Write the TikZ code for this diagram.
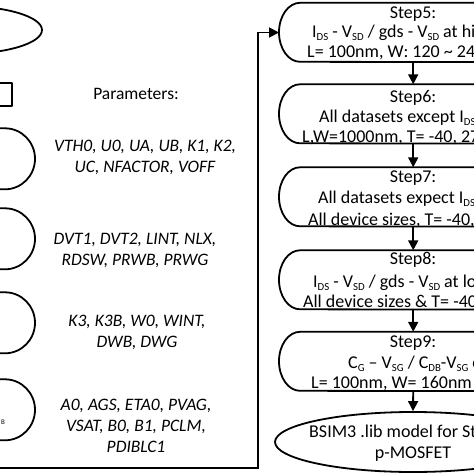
\documentclass[tikz,border=0pt]{standalone}
\usepackage{fontspec}
\setmainfont{Carlito}
\usetikzlibrary{arrows.meta,shapes.geometric}
\newcommand\sbs[1]{\raisebox{-0.3ex}{\fontsize{10.8}{10.8}\selectfont #1}}
\begin{document}
\begin{tikzpicture}[x=1pt,y=-1pt,
  outline/.style={line width=1.8pt,line join=round},
  arr/.style={line width=1.8pt,-{Triangle[length=10pt,width=10pt]}},
  stepbox/.style={anchor=west,minimum width=268pt,minimum height=59pt,inner sep=0pt},
  pbox/.style={anchor=east,minimum width=100pt,minimum height=61pt,inner sep=0pt},
  txt/.style={inner sep=0pt,font=\fontsize{17.5}{21}\selectfont},
  stxt/.style={inner sep=0pt,font=\fontsize{18}{21}\selectfont},
  ptxt/.style={inner sep=0pt,align=center,font=\fontsize{17.5}{21}\selectfont\itshape},
  lt/.style={stxt,anchor=base west},
  ct/.style={stxt,anchor=base}]
\useasboundingbox (0,0) rectangle (474,474);
\clip (0,0) rectangle (474,474);
\fill[white] (0,0) rectangle (474,474);

% left column shapes (cut off)
\node[draw,outline,ellipse,minimum width=160pt,minimum height=48pt] (top) at (-38,30) {};
\node[draw,outline,rectangle,minimum width=40pt,minimum height=23pt,inner sep=0pt] (sq) at (-8,94.5) {};
\node[pbox] (p1) at (35,159) {};
\node[pbox] (p2) at (35,239) {};
\node[pbox] (p3) at (35,323) {};
\node[pbox] (p4) at (35,410) {};
\foreach \n in {p1,p2,p3,p4}{
  \draw[outline] (\n.north west) -- ([xshift=-30pt]\n.north east)
    arc[start angle=90,end angle=-90,x radius=30pt,y radius=30.5pt] -- (\n.south west);
}
\node[inner sep=0pt,font=\fontsize{7}{7}\selectfont] (bsub) at (3,422) {B};

% parameters
\node[txt] (ptitle) at (136,94) {Parameters:};
\node[ptxt] (par1) at (145,157) {VTH0, U0, UA, UB, K1, K2,\\UC, NFACTOR, VOFF};
\node[ptxt] (par2) at (135,250) {DVT1, DVT2, LINT, NLX,\\RDSW, PRWB, PRWG};
\node[ptxt] (par3) at (137,332.5) {K3, K3B, W0, WINT,\\DWB, DWG};
\node[ptxt] (par4) at (136,426) {A0, AGS, ETA0, PVAG,\\VSAT, B0, B1, PCLM,\\PDIBLC1};

% step boxes
\node[stepbox] (s5) at (279,32.5) {};
\node[stepbox] (s6) at (279,114) {};
\node[stepbox] (s7) at (279,197) {};
\node[stepbox] (s8) at (279,280) {};
\node[stepbox] (s9) at (279,361.5) {};
\foreach \n in {s5,s6,s7,s8,s9}{
  \draw[outline] (\n.north east) -- ([xshift=21pt]\n.north west)
    arc[start angle=90,end angle=270,x radius=21pt,y radius=29.5pt] -- (\n.south east);
}
\node[draw,outline,ellipse,minimum width=276pt,minimum height=60pt] (fin) at (413,442) {};

% step texts
\node[ct] (t5a) at (413,18.5) {Step5:};
\node[lt] (t5b) at (312,37.5) {I\sbs{DS} - V\sbs{SD} / gds - V\sbs{SD} at high V\sbs{SG}};
\node[lt] (t5c) at (307,57.5) {L= 100nm, W: 120 \textasciitilde{} 240nm};
\node[ct] (t6a) at (413,102.5) {Step6:};
\node[lt] (t6b) at (319,122.5) {All datasets except I\sbs{DS} - V\sbs{SD} at high V\sbs{SG}};
\node[lt] (t6c) at (302,142.5) {L,W=1000nm, T= -40, 27, 125 °C};
\node[ct] (t7a) at (413,182.5) {Step7:};
\node[lt] (t7b) at (318,203.5) {All datasets expect I\sbs{DS} - V\sbs{SD} at low V\sbs{SG}};
\node[lt] (t7c) at (308,225.5) {All device sizes, T= -40, 27, 125 °C};
\node[ct] (t8a) at (413,264.5) {Step8:};
\node[lt] (t8b) at (313,287.5) {I\sbs{DS} - V\sbs{SD} / gds - V\sbs{SD} at low V\sbs{SG}};
\node[lt] (t8c) at (303,307.5) {All device sizes \& T= -40, 27, 125 °C};
\node[ct] (t9a) at (413,347.5) {Step9:};
\node[lt] (t9b) at (348,368.5) {C\sbs{G} – V\sbs{SG} / C\sbs{DB}-V\sbs{SG} curves};
\node[lt] (t9c) at (311,388.5) {L= 100nm, W= 160nm};
\node[lt] (tfa) at (309,437.5) {BSIM3 .lib model for Strained-Si};
\node[ct] (tfb) at (413,458.5) {p-MOSFET};

% connectors
\draw[arr] (s5.south) -- (s6.north);
\draw[arr] (s6.south) -- (s7.north);
\draw[arr] (s7.south) -- (s8.north);
\draw[arr] (s8.south) -- (s9.north);
\draw[arr] (s9.south) -- (fin.north);
\coordinate (fb0) at (-5,468);
\coordinate (fb1) at (258,468);
\draw[arr,line join=miter] (fb0) -- (fb1) |- (s5.west);
\end{tikzpicture}
\end{document}
